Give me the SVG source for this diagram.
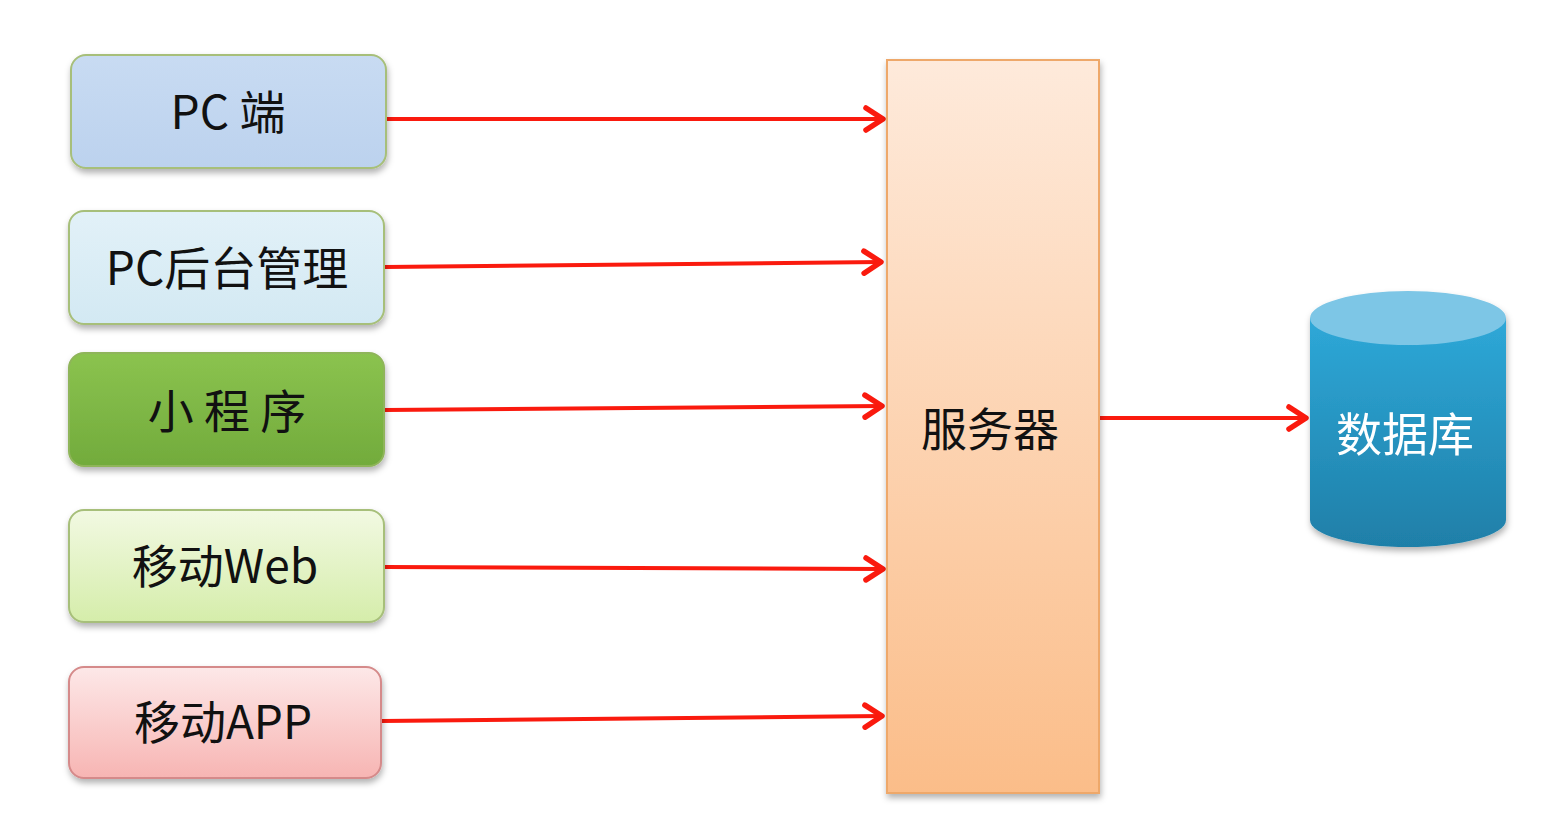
<svg xmlns="http://www.w3.org/2000/svg" width="1545" height="822" viewBox="0 0 1545 822">
<defs>
<style>
.box{stroke-width:2}
.lbl{font-family:"Noto Sans CJK SC","Noto Sans",sans-serif;font-size:46px;fill:#111;text-anchor:middle;dominant-baseline:central}
.con{stroke:#fa1a0e;stroke-width:4;fill:none;marker-end:url(#ah)}
</style>
<filter id="sh" x="-10%" y="-10%" width="120%" height="130%"><feDropShadow dx="1" dy="4" stdDeviation="3" flood-color="#000" flood-opacity="0.3"/></filter>
<marker id="ah" markerUnits="userSpaceOnUse" markerWidth="30" markerHeight="30" refX="23" refY="13" orient="auto" viewBox="0 0 30 26"><path d="M6 2 L23 13 L6 24" fill="none" stroke="#fa1a0e" stroke-width="5.5" stroke-linecap="round" stroke-linejoin="round"/></marker>
<linearGradient id="gPC" x1="0" y1="0" x2="0" y2="1"><stop offset="0" stop-color="#c8dbf2"/><stop offset="1" stop-color="#bcd2ee"/></linearGradient>
<linearGradient id="gAdm" x1="0" y1="0" x2="0" y2="1"><stop offset="0" stop-color="#e2f1f8"/><stop offset="1" stop-color="#d3e9f3"/></linearGradient>
<linearGradient id="gMini" x1="0" y1="0" x2="0" y2="1"><stop offset="0" stop-color="#8bc34f"/><stop offset="1" stop-color="#72ab3c"/></linearGradient>
<linearGradient id="gWeb" x1="0" y1="0" x2="0" y2="1"><stop offset="0" stop-color="#f2f9e2"/><stop offset="1" stop-color="#d5edaa"/></linearGradient>
<linearGradient id="gApp" x1="0" y1="0" x2="0" y2="1"><stop offset="0" stop-color="#fde8e8"/><stop offset="1" stop-color="#f7b5b3"/></linearGradient>
<linearGradient id="gSrv" x1="0" y1="0" x2="0" y2="1"><stop offset="0" stop-color="#feeadb"/><stop offset="1" stop-color="#fbbd89"/></linearGradient>
<linearGradient id="gDb" x1="0" y1="0" x2="0" y2="1"><stop offset="0" stop-color="#2ea8d8"/><stop offset="1" stop-color="#1f7fa8"/></linearGradient>
</defs>
<rect width="1545" height="822" fill="#fff"/>
<g id="connectors">
<line class="con" x1="386" y1="119" x2="883" y2="119"/>
<line class="con" x1="385" y1="267" x2="881" y2="262"/>
<line class="con" x1="385" y1="410" x2="882" y2="406"/>
<line class="con" x1="385" y1="567" x2="883" y2="569"/>
<line class="con" x1="382" y1="721" x2="882" y2="716"/>
<line class="con" x1="1099" y1="418" x2="1306" y2="418"/>
</g>
<g id="pc">
<rect class="box" x="71" y="55" width="315" height="113" rx="15" fill="url(#gPC)" stroke="#a7bf7a" filter="url(#sh)"/>
<text class="lbl" x="228" y="109">PC 端</text>
</g>
<g id="admin">
<rect class="box" x="69" y="211" width="315" height="113" rx="15" fill="url(#gAdm)" stroke="#a7bf7a" filter="url(#sh)"/>
<text class="lbl" x="227" y="265">PC后台管理</text>
</g>
<g id="mini">
<rect class="box" x="69" y="353" width="315" height="113" rx="15" fill="url(#gMini)" stroke="#8fb55a" filter="url(#sh)"/>
<text class="lbl" x="227" y="408">小 程 序</text>
</g>
<g id="web">
<rect class="box" x="69" y="510" width="315" height="112" rx="15" fill="url(#gWeb)" stroke="#a7bf7a" filter="url(#sh)"/>
<text class="lbl" x="225" y="563">移动Web</text>
</g>
<g id="app">
<rect class="box" x="69" y="667" width="312" height="111" rx="15" fill="url(#gApp)" stroke="#d58a8a" filter="url(#sh)"/>
<text class="lbl" x="223" y="719">移动APP</text>
</g>
<g id="server">
<rect x="887" y="60" width="212" height="733" fill="url(#gSrv)" stroke="#eea86a" stroke-width="2" filter="url(#sh)"/>
<text class="lbl" x="990" y="426">服务器</text>
</g>
<g id="db" filter="url(#sh)">
<path d="M1310 318 L1310 520 A98 27 0 0 0 1506 520 L1506 318 Z" fill="url(#gDb)"/>
<ellipse cx="1408" cy="318" rx="98" ry="27" fill="#7dc6e6"/>
<text class="lbl" x="1405" y="431" style="fill:#fff">数据库</text>
</g>
</svg>
